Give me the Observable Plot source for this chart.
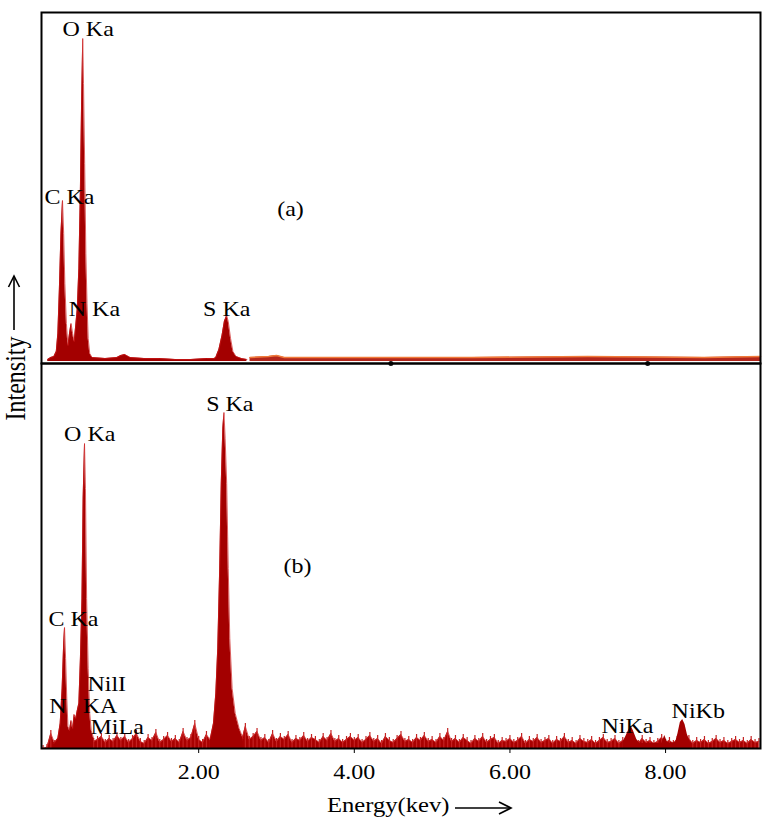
<!DOCTYPE html>
<html>
<head>
<meta charset="utf-8">
<script src="https://cdn.jsdelivr.net/npm/d3@7"></script>
<script src="https://cdn.jsdelivr.net/npm/@observablehq/plot@0.6"></script>
<style>
  body { margin: 0; background: #fff; }
  #wrap { position: relative; width: 766px; height: 827px; overflow: hidden; background: #fff; }
  .chart { position: absolute; left: 0; }
  .chart svg { overflow: visible; }
  #deco { position: absolute; left: 0; top: 0; pointer-events: none; }
</style>
</head>
<body>
<div id="wrap">
  <div class="chart" id="top" style="top:0"></div>
  <div class="chart" id="bottom" style="top:363px"></div>
  <svg id="deco" width="766" height="827" font-family="Liberation Serif, Times New Roman, serif">
    <text transform="translate(25,378.5) rotate(-90) scale(1,1.2)" text-anchor="middle" font-size="24">Intensity</text>
    <line x1="14" y1="330" x2="14" y2="276" stroke="#000" stroke-width="1.6"/>
    <polyline points="8.5,287 14,276 19.5,287" fill="none" stroke="#000" stroke-width="1.6"/>
    <text transform="translate(327,812) scale(1.2,1)" font-size="20.5">Energy(kev)</text>
    <line x1="455" y1="808" x2="511" y2="808" stroke="#000" stroke-width="1.6"/>
    <polyline points="499,802 511,808 499,814" fill="none" stroke="#000" stroke-width="1.6"/>
  </svg>
</div>
<script>
// ---------- data (energy in keV, intensity in counts) ----------
// panel (a): low-energy part of spectrum incl. C, N, O and S peaks
const spectrumA = [
  [0.06,4],[0.10,6],[0.14,7],[0.17,12],[0.19,30],[0.21,75],[0.23,130],[0.25,163],
  [0.265,130],[0.28,80],[0.30,40],[0.32,18],[0.34,30],[0.36,40],[0.38,30],[0.40,22],
  [0.42,38],[0.44,55],[0.46,95],[0.48,175],[0.495,260],[0.51,325],[0.52,280],[0.535,200],
  [0.55,110],[0.565,60],[0.58,25],[0.60,10],[0.63,6],[0.8,5],[0.95,6],[1.0,8],[1.05,9],
  [1.12,6],[1.3,5],[1.5,5],[1.7,4],[1.9,4],[2.1,5],[2.2,5],[2.22,6],[2.26,14],[2.30,28],
  [2.33,42],[2.36,48],[2.38,42],[2.41,25],[2.44,12],[2.48,7],[2.55,5],[2.62,4]
];
// panel (a): flat continuation band beyond 2.66 keV
const tailA = [[2.66,6],[2.9,7],[3.0,8],[3.1,6],[4.0,6],[5.5,6],[7.0,7],[8.5,6],[9.22,7]];
const dotsA = [4.47, 7.77];

// panel (b): background counts every 0.05 keV from 0.00 to 9.20
const bgStartB = 0, bgStepB = 0.05;
const backgroundB = [
  0,1,15,5,7,9,8,10,12,9,11,8,10,7,9,12,6,10,7,13,
  8,12,6,10,15,7,5,11,8,16,6,9,13,7,10,6,17,8,11,25,
  9,6,14,8,10,12,9,14,11,8,10,7,22,9,12,17,8,11,6,15,
  7,12,9,14,6,10,8,13,7,11,9,6,12,8,15,7,10,6,9,12,
  8,11,6,9,13,7,10,5,12,8,6,10,14,7,9,6,11,8,13,7,
  9,6,12,8,17,7,10,6,11,8,5,10,7,12,6,9,11,5,8,7,
  10,6,8,12,5,9,7,11,6,8,10,5,9,7,12,6,8,5,10,7,
  6,9,5,8,11,6,7,10,5,8,6,9,7,5,10,6,8,5,7,11,
  6,8,5,9,6,7,10,5,8,6,9,5,7,10,6,8,5,7,9,6,
  8,5,9,6,7
];
// panel (b): peaks
const lowPeaksB = [
  [0.14,5],[0.17,8],[0.19,10],[0.22,25],[0.245,60],[0.265,105],[0.276,121],[0.29,90],
  [0.305,50],[0.32,22],[0.34,18],[0.36,28],[0.38,20],[0.40,34],[0.42,30],[0.44,38],
  [0.46,45],[0.48,90],[0.50,150],[0.515,250],[0.533,305],[0.545,260],[0.56,150],
  [0.58,80],[0.60,35],[0.62,18],[0.65,10]
];
const sPeakB = [
  [2.15,10],[2.19,25],[2.22,55],[2.245,100],[2.27,180],[2.29,265],[2.31,320],[2.325,336],
  [2.34,310],[2.36,265],[2.38,180],[2.40,110],[2.43,60],[2.47,35],[2.52,20],[2.57,10]
];
const niPeaksB = [
  [7.45,6],[7.49,12],[7.53,19],[7.56,22],[7.59,17],[7.63,9],[7.67,5],
  [7.95,5],[7.99,13],[8.03,5],
  [8.13,6],[8.16,15],[8.19,26],[8.22,29],[8.25,24],[8.28,14],[8.32,6]
];

// labels: [text, keV, counts]
const labelsA = [["O Ka",0.58,328],["C Ka",0.34,160],["N Ka",0.66,48],["S Ka",2.36,48],["(a)",3.18,148]];
const labelsB = [["S Ka",2.40,338],["O Ka",0.60,308],["C Ka",0.39,123],["(b)",3.27,176],["NiKa",7.51,16],["NiKb",8.42,31]];
const labelsBStart = [["NilI",0.57,58],["N",0.08,36],["KA",0.51,36],["MiLa",0.61,15]];

const xTicks = [2, 4, 6, 8];
const xDomain = [-0.02, 9.22];

// ---------- drawing ----------
const RED = "#a30000", EDGE = "#cc1a1a";
const font = "Liberation Serif, Times New Roman, serif";

const bgB = backgroundB.map((v, i) => [bgStartB + i * bgStepB, v]);

// the reference's lettering is horizontally stretched: widen every text about its anchor
function stretchTexts(svg) {
  svg.querySelectorAll("text").forEach(t => {
    const tr = t.getAttribute("transform");
    if (tr) {
      t.setAttribute("transform", tr + " scale(1.2,1)");
    } else {
      const xs = parseFloat(t.getAttribute("x")), ys = parseFloat(t.getAttribute("y"));
      const xx = isFinite(xs) ? xs : 0, yy = isFinite(ys) && !/em$/.test(t.getAttribute("y") || "") ? ys : 0;
      t.setAttribute("transform", `translate(${xx},${yy}) scale(1.2,1) translate(${-xx},${-yy})`);
    }
  });
  return svg;
}

const topPlot = Plot.plot({
  width: 766, height: 365,
  marginLeft: 41, marginRight: 6, marginTop: 12, marginBottom: 2,
  x: {domain: xDomain, axis: null},
  y: {domain: [0, 351], axis: null},
  style: {fontFamily: font, fontSize: "20px", color: "#000", background: "transparent"},
  marks: [
    Plot.areaY(spectrumA, {x: d => d[0], y1: 2, y2: d => d[1], fill: RED}),
    Plot.lineY(spectrumA, {x: d => d[0], y: d => d[1], stroke: EDGE, strokeWidth: 0.7}),
    Plot.areaY(tailA, {x: d => d[0], y1: 2, y2: d => d[1], fill: "#b3261c"}),
    Plot.lineY(tailA, {x: d => d[0], y: d => d[1], stroke: "#f07a3a", strokeWidth: 1.6}),
    Plot.frame({stroke: "#000", strokeWidth: 2}),
    Plot.dot(dotsA, {x: d => d, y: 0, r: 2.5, fill: "#111"}),
    Plot.text(labelsA, {x: d => d[1], y: d => d[2], text: d => d[0], lineAnchor: "bottom", fontSize: 20, fill: "#000"})
  ]
});
document.getElementById("top").appendChild(stretchTexts(topPlot));

const bottomPlot = Plot.plot({
  width: 766, height: 464,
  marginLeft: 41, marginRight: 6, marginTop: 0, marginBottom: 79,
  x: {domain: xDomain, ticks: xTicks, tickFormat: d => d.toFixed(2), tickSize: 5, tickPadding: 11, label: null},
  y: {domain: [0, 385], axis: null},
  style: {fontFamily: font, fontSize: "20px", color: "#000", background: "transparent"},
  marks: [
    Plot.areaY(bgB, {x: d => d[0], y: d => d[1], fill: "#a80000"}),
    Plot.ruleX(bgB, {x: d => d[0], y1: 0, y2: d => d[1] + 3, stroke: "#c42222", strokeWidth: 1.2}),
    Plot.lineY(bgB, {x: d => d[0], y: d => d[1], stroke: "#d23030", strokeWidth: 0.8}),
    Plot.areaY(lowPeaksB, {x: d => d[0], y: d => d[1], fill: RED}),
    Plot.lineY(lowPeaksB, {x: d => d[0], y: d => d[1], stroke: EDGE, strokeWidth: 0.7}),
    Plot.areaY(sPeakB, {x: d => d[0], y: d => d[1], fill: RED}),
    Plot.lineY(sPeakB, {x: d => d[0], y: d => d[1], stroke: EDGE, strokeWidth: 0.7}),
    Plot.areaY(niPeaksB, {x: d => d[0], y: d => d[1], fill: RED}),
    Plot.frame({stroke: "#000", strokeWidth: 2}),
    Plot.text(labelsB, {x: d => d[1], y: d => d[2], text: d => d[0], lineAnchor: "bottom", fontSize: 20, fill: "#000"}),
    Plot.text(labelsBStart, {x: d => d[1], y: d => d[2], text: d => d[0], lineAnchor: "bottom", textAnchor: "start", fontSize: 20, fill: "#000"})
  ]
});
document.getElementById("bottom").appendChild(stretchTexts(bottomPlot));
</script>
</body>
</html>
